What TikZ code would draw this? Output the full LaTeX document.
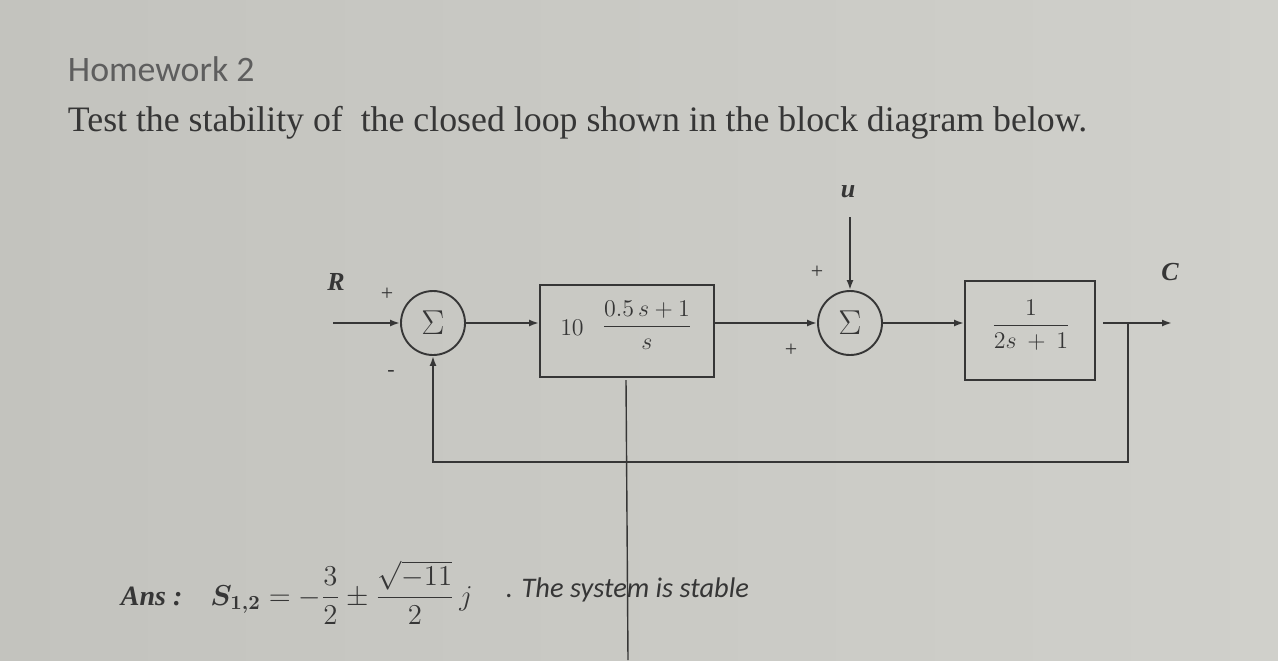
\documentclass[tikz,border=0pt]{standalone}
\usepackage{fontspec}
\usepackage{amsmath}
\setmainfont{Liberation Serif}
\newfontfamily\calib{Carlito}
\usetikzlibrary{arrows.meta}
\definecolor{paperL}{HTML}{C3C3BE}
\definecolor{paperR}{HTML}{D0D0CB}
\definecolor{ink}{HTML}{363636}
\begin{document}
\begin{tikzpicture}[x=0.5pt,y=-0.5pt,line width=0.95pt,
  sig/.style={draw=ink,-{Latex[length=5pt,width=3.5pt]}},
  blk/.style={draw=ink,rectangle,inner sep=0pt},
  sumc/.style={circle,draw=ink,minimum size=32pt,inner sep=0pt,text=ink,font=\fontsize{16}{17}\selectfont},
  varlbl/.style={text=ink,font=\bfseries\itshape\fontsize{13}{14}\selectfont},
  sgn/.style={text=ink,font=\fontsize{11}{12}\selectfont,inner sep=0pt},
  mathtxt/.style={text=ink,font=\fontsize{13}{14}\selectfont,inner sep=0pt}]
\shade[left color=paperL,right color=paperR] (0,0) rectangle (1278,660);
\useasboundingbox (0,0) rectangle (1278,660);

% heading
\node[anchor=base west,inner sep=0pt,text=ink!80,font=\calib\fontsize{17.9}{20}\selectfont] (hw) at (67,81) {Homework 2};
\node[anchor=base west,inner sep=0pt,text=ink,font=\fontsize{17.9}{20}\selectfont] (q) at (67,131) {Test the stability of\ \ the closed loop shown in the block diagram below.};

% blocks and summers
\node[sumc] (s1) at (433,323) {$\Sigma$};
\node[blk,minimum width=87pt,minimum height=46pt] (b1) at (627,331) {};
\node[mathtxt] (k) at (572,328) {$10$};
\node[mathtxt] (g1) at (647,325) {$\dfrac{0.5\,s+1}{s}$};
\node[sumc] (s2) at (850,323) {$\Sigma$};
\node[blk,minimum width=65pt,minimum height=49.5pt] (b2) at (1030,330.5) {};
\node[mathtxt] (g2) at (1031,325) {$\dfrac{1}{2s\:+\:1}$};

% labels
\node[varlbl] (R) at (336,282) {R};
\node[varlbl] (U) at (848,192) {u};
\node[varlbl] (C) at (1170,272) {C};
\node[sgn] (p1) at (387,294) {+};
\node[sgn] (m1) at (391,373) {-};
\node[sgn] (p2) at (817,272) {+};
\node[sgn] (p3) at (791,350) {+};

% signal lines
\coordinate (in) at (333,323);
\coordinate (ut) at (850,217);
\coordinate (o1) at (1103,323);
\coordinate (out) at (1172,323);
\coordinate (tap) at (1128,323);
\coordinate (fb) at (s1.center |- 0,462);
\draw[sig] (in) -- (s1.west);
\draw[sig] (s1.east) -- (s1.east -| b1.west);
\draw[sig] (s1.east -| b1.east) -- (s2.west);
\draw[sig] (ut) -- (s2.north);
\draw[sig] (s2.east) -- (s2.east -| b2.west);
\draw[sig] (o1) -- (out);
\draw[sig] (tap) |- (fb) -- (s1.south);

% pen stroke
\coordinate (pa) at (626,380);
\coordinate (pb) at (628,660);
\draw[ink,line width=0.7pt] (pa) -- (pb);

% answer
\node[anchor=base west,inner sep=0pt,text=ink,font=\fontsize{14}{16}\selectfont] (ans) at (120,605)
  {\bfseries\itshape Ans :\quad $\boldsymbol{S_{1,2}} = -\dfrac{3}{2}\pm\dfrac{\sqrt{-11}}{2}\,j$};
\node[anchor=base west,inner sep=0pt,text=ink,font=\calib\itshape\fontsize{14.2}{16}\selectfont] (st) at (505,597) {. The system is stable};
\end{tikzpicture}
\end{document}
